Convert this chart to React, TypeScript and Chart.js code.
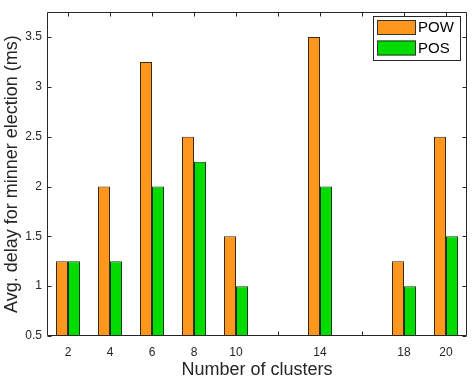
import React, { useEffect, useRef } from "react";
import { Chart, registerables } from "chart.js";

Chart.register(...registerables);

const clusters = [2, 4, 6, 8, 10, 14, 18, 20];
const powValues = [1.25, 2, 3.25, 2.5, 1.5, 3.5, 1.25, 2.5];
const posValues = [1.25, 1.25, 2, 2.25, 1, 2, 1, 1.5];
const xTicks = [2, 4, 6, 8, 10, 12, 14, 16, 18, 20];
const xLabelled = [2, 4, 6, 8, 10, 14, 18, 20];
const yTicks = [0.5, 1, 1.5, 2, 2.5, 3, 3.5];
const seriesNames = ["POW", "POS"];

const FONT = "'Liberation Sans', Arial, sans-serif";

const boxPlugin = {
  id: "boxTicks",
  afterDraw(chart: any) {
    const { ctx, chartArea } = chart;
    const { left, right, top, bottom } = chartArea;
    const xs = chart.scales.x;
    const ys = chart.scales.y;
    ctx.save();
    ctx.strokeStyle = "#262626";
    ctx.lineWidth = 1;
    ctx.beginPath();
    const L = Math.round(left) + 0.5;
    const R = Math.round(right) - 0.5;
    const T = Math.round(top) + 0.5;
    const B = Math.round(bottom) - 0.5;
    ctx.rect(L, T, R - L, B - T);
    const tl = 4;
    xTicks.forEach((v) => {
      const px = Math.round(xs.getPixelForValue(v)) + 0.5;
      ctx.moveTo(px, B);
      ctx.lineTo(px, B - tl);
      ctx.moveTo(px, T);
      ctx.lineTo(px, T + tl);
    });
    yTicks.forEach((v) => {
      const py = Math.round(ys.getPixelForValue(v)) + 0.5;
      ctx.moveTo(L, py);
      ctx.lineTo(L + tl, py);
      ctx.moveTo(R, py);
      ctx.lineTo(R - tl, py);
    });
    ctx.stroke();

    // legend
    const lx = 373, ly = 16, lw = 87, lh = 44;
    ctx.fillStyle = "#ffffff";
    ctx.fillRect(lx, ly, lw, lh);
    ctx.strokeStyle = "#262626";
    ctx.strokeRect(lx + 0.5, ly + 0.5, lw, lh);
    chart.data.datasets.forEach((ds: any, i: number) => {
      const sy = ly + 4 + i * 20.5;
      ctx.fillStyle = ds.backgroundColor;
      ctx.fillRect(lx + 4, sy, 39, 15);
      ctx.strokeStyle = "#333";
      ctx.strokeRect(lx + 4.5, sy + 0.5, 38, 14);
      ctx.fillStyle = "#000";
      ctx.font = `15px ${FONT}`;
      ctx.textBaseline = "middle";
      ctx.textAlign = "left";
      ctx.fillText(ds.label, lx + 45, sy + 8);
    });
    ctx.restore();
  },
};

export default function App() {
  const ref = useRef<HTMLCanvasElement>(null);
  useEffect(() => {
    document.body.style.margin = "0";
    const chart = new Chart(ref.current!, {
      type: "bar",
      data: {
        datasets: [
          {
            label: seriesNames[0],
            data: clusters.map((x, i) => ({ x, y: powValues[i] })),
            backgroundColor: "#FF961E",
            borderColor: "#3a2a10",
            borderWidth: 1,
            base: 0.5,
          } as any,
          {
            label: seriesNames[1],
            data: clusters.map((x, i) => ({ x, y: posValues[i] })),
            backgroundColor: "#00DC00",
            borderColor: "#123a12",
            borderWidth: 1,
            base: 0.5,
          } as any,
        ],
      },
      options: {
        animation: false,
        responsive: false,
        categoryPercentage: 0.5714,
        barPercentage: 1,
        layout: { padding: { top: 7, right: 7, left: 0, bottom: 0 } },
        plugins: {
          legend: { display: false },
          tooltip: { enabled: false },
        },
        scales: {
          x: {
            type: "linear",
            offset: false,
            min: 1,
            max: 21,
            grid: { display: false, drawTicks: false },
            border: { display: false },
            afterBuildTicks: (s: any) => {
              s.ticks = xTicks.map((v) => ({ value: v }));
            },
            afterFit: (s: any) => {
              s.height = 43;
            },
            ticks: {
              autoSkip: false,
              maxRotation: 0,
              padding: 9,
              color: "#262626",
              font: { family: FONT, size: 12 },
              callback: (v: any) => (xLabelled.includes(Number(v)) ? String(v) : ""),
            },
            title: {
              display: true,
              text: "Number of clusters",
              color: "#262626",
              font: { family: FONT, size: 18, lineHeight: 1 },
              padding: 0,
            },
          },
          y: {
            type: "linear",
            min: 0.5,
            max: 3.75,
            grid: { display: false, drawTicks: false },
            border: { display: false },
            afterBuildTicks: (s: any) => {
              s.ticks = yTicks.map((v) => ({ value: v }));
            },
            afterFit: (s: any) => {
              s.width = 47;
            },
            ticks: {
              padding: 5,
              color: "#262626",
              font: { family: FONT, size: 12 },
              callback: (v: any) => String(v),
            },
            title: {
              display: true,
              text: "Avg. delay for minner election (ms)",
              color: "#262626",
              font: { family: FONT, size: 18, lineHeight: 1 },
              padding: { top: 3, bottom: 0 },
            },
          },
        },
      },
      plugins: [boxPlugin],
    });
    return () => chart.destroy();
  }, []);
  return (
    <div style={{ position: "absolute", left: 0, top: 0, width: 474, height: 379, background: "#fff" }}>
      <canvas ref={ref} width={474} height={379} />
    </div>
  );
}
